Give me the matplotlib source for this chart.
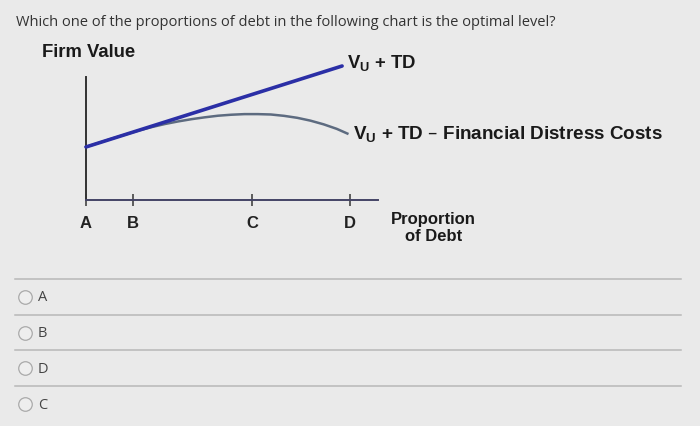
import numpy as np
import matplotlib.pyplot as plt

# chart data (proportion of debt on x, firm value on y)
tick_labels = ['A', 'B', 'C', 'D']
tick_pos = [0.0, 0.178, 0.629, 1.0]
line_x = [0.0, 0.97]
line_y = [0.431, 1.089]
curve_x = [0.0, 0.1, 0.2, 0.25, 0.3, 0.35, 0.4, 0.45, 0.5, 0.55, 0.6, 0.65, 0.7, 0.75, 0.8, 0.85, 0.9, 0.95, 0.99]
curve_y = [0.431, 0.500, 0.565, 0.593, 0.618, 0.639, 0.657, 0.672, 0.685, 0.693, 0.698, 0.698, 0.695, 0.684,
           0.668, 0.645, 0.615, 0.578, 0.540]
options = ['A', 'B', 'D', 'C']

question = "Which one of the proportions of debt in the following chart is the optimal level?"

bg = '#eaeaea'
fig = plt.figure(figsize=(7, 4.27), dpi=100, facecolor=bg)

# --- chart
ax = fig.add_axes([86/700, 1 - 201/427, 292/700, 141.5/427])
ax.set_facecolor('none')
ax.set_xlim(0, 1.106)
ax.set_ylim(0, 1.15)
ax.plot(curve_x, curve_y, color='#5d6b80', lw=1.8, solid_joinstyle='round', clip_on=False, zorder=2)
ax.plot(line_x, line_y, color='#2b2fa6', lw=2.6, solid_capstyle='round', clip_on=False, zorder=3)
for s in ['top', 'right']:
    ax.spines[s].set_visible(False)
ax.spines['left'].set_bounds(0, 1.0)
ax.spines['left'].set_color('#333333')
ax.spines['bottom'].set_color('#444466')
ax.spines['left'].set_linewidth(1.4)
ax.spines['bottom'].set_linewidth(1.4)
ax.set_yticks([])
ax.set_xticks(tick_pos)
ax.set_xticklabels(tick_labels, family='Liberation Sans', fontweight='bold', fontsize=12, color='#222222')
ax.tick_params(axis='x', direction='inout', length=9, width=1.2, color='#444444', pad=6)

bold = dict(family='Liberation Sans', fontweight='bold', color='#1a1a1a')
ax.text(0.008, 1.21, 'Firm Value', ha='center', va='center', fontsize=13.3, clip_on=False, **bold)
ax.text(line_x[-1] + 0.02, line_y[-1] + 0.03, r'V$_\mathregular{U}$ + TD', ha='left', va='center',
        fontsize=13.3, clip_on=False, **bold)
ax.text(curve_x[-1] + 0.02, curve_y[-1] + 0.0, r'V$_\mathregular{U}$ + TD – Financial Distress Costs',
        ha='left', va='center', fontsize=13.6, clip_on=False, **bold)
ax.text(1.315, -0.22, 'Proportion\nof Debt', ha='center', va='center', fontsize=12,
        linespacing=1.15, clip_on=False, **bold)

fig.text(16/700, 1 - 22/427, question, ha='left', va='center', fontsize=10.5,
         family='Open Sans', color='#333333')

# --- answer options
oax = fig.add_axes([0, 0, 1, 165/427])
oax.set_axis_off()
oax.set_xlim(0, 700)
oax.set_ylim(3.61, -1.0)
rows = np.arange(len(options))
for r in rows:
    oax.plot([15, 681], [r - 0.5, r - 0.5], color='#b8b8b8', lw=1.1)
oax.scatter(np.full(len(options), 25), rows, s=95, facecolor='#eeeeee', edgecolor='#aaaaaa', lw=0.9)
for r, lab in zip(rows, options):
    oax.text(38, r, lab, ha='left', va='center', fontsize=10.5, family='Open Sans', color='#444444')

fig.savefig('out.png', dpi=100, facecolor=bg)
